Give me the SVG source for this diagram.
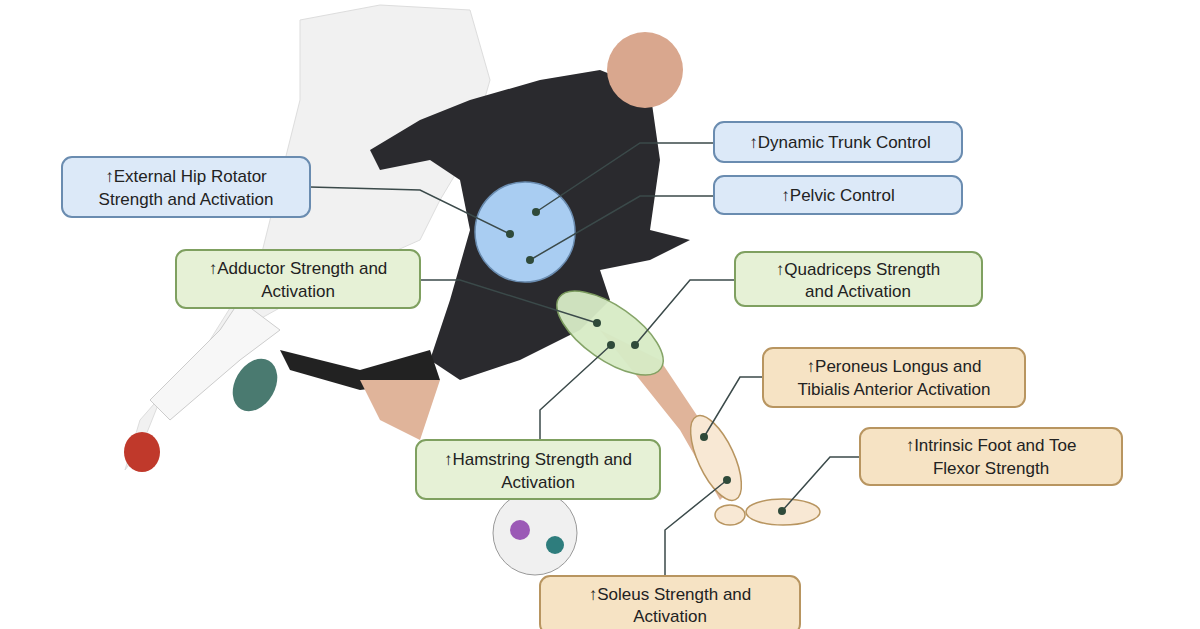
<svg xmlns="http://www.w3.org/2000/svg" width="1200" height="629" viewBox="0 0 1200 629">
<style>
.lb{font-family:"Liberation Sans",Arial,sans-serif;font-size:17px;fill:#222;text-anchor:middle}
.bb{fill:#dce9f8;stroke:#6a8cb0;stroke-width:2}
.gb{fill:#e6f1d6;stroke:#7fa060;stroke-width:2}
.tb{fill:#f6e3c4;stroke:#b89560;stroke-width:2}
.cn{fill:none;stroke:#3b4a4a;stroke-width:1.5}
.dot{fill:#2f4a3a}
</style>
<rect width="1200" height="629" fill="#fff"/>
<g id="scene">
<path d="M300 20 L380 5 L470 10 L490 80 L470 150 L440 200 L420 240 L330 280 L240 330 L160 400 L140 450 L125 470 L140 420 L210 340 L260 260 L280 180 L300 100Z" fill="#f1f1f1" stroke="#ddd"/>
<path d="M220 330 L240 300 L280 330 L240 360 L170 420 L150 400Z" fill="#f7f7f7" stroke="#ccc"/>
<ellipse cx="142" cy="452" rx="18" ry="20" fill="#c0392b"/>
<ellipse cx="255" cy="385" rx="20" ry="28" fill="#4a7a70" transform="rotate(30 255 385)"/>
<path d="M470 100 L540 80 L600 70 L650 90 L660 160 L650 230 L690 240 L650 260 L600 270 L610 300 L580 330 L520 360 L460 380 L430 360 L450 300 L470 230 L460 180 L430 160 L380 170 L370 150 L420 120Z" fill="#2a2a2e"/>
<circle cx="645" cy="70" r="38" fill="#d9a78e"/>
<path d="M280 350 L360 370 L430 350 L440 380 L360 390 L290 370Z" fill="#222"/>
<path d="M360 380 L440 380 L420 440 L380 420Z" fill="#e0b49a"/>
<path d="M600 330 L660 360 L700 420 L740 480 L720 500 L680 430 L640 380Z" fill="#e0b49a"/>
<circle cx="535" cy="533" r="42" fill="#f0f0f0" stroke="#999"/>
<circle cx="520" cy="530" r="10" fill="#9b59b6"/><circle cx="555" cy="545" r="9" fill="#2e7d7d"/>
</g>
<g id="regions">
<circle cx="525" cy="232" r="50" fill="#a9cdf2" stroke="#6a8cb0" stroke-width="1.5"/>
<ellipse cx="610" cy="333" rx="62" ry="27" transform="rotate(35 610 333)" fill="#d7ebc6" stroke="#7fa060" stroke-width="1.5" opacity="0.95"/>
<ellipse cx="716" cy="458" rx="18" ry="46" transform="rotate(-25 716 458)" fill="#f8e8d4" stroke="#b89560" stroke-width="1.5"/>
<ellipse cx="730" cy="515" rx="15" ry="10" fill="#f8e8d4" stroke="#b89560" stroke-width="1.5"/>
<ellipse cx="783" cy="512" rx="37" ry="13" fill="#f8e8d4" stroke="#b89560" stroke-width="1.5"/>
</g>
<g id="connectors">
<polyline class="cn" points="536,212 640,143 714,143"/>
<polyline class="cn" points="530,260 640,196 714,196"/>
<polyline class="cn" points="510,234 420,190 310,187"/>
<polyline class="cn" points="597,323 460,280 420,280"/>
<polyline class="cn" points="635,345 690,280 735,280"/>
<polyline class="cn" points="611,345 540,410 540,440"/>
<polyline class="cn" points="704,437 740,377 763,377"/>
<polyline class="cn" points="782,511 830,457 860,457"/>
<polyline class="cn" points="727,480 665,530 665,576"/>
<circle class="dot" cx="536" cy="212" r="4"/><circle class="dot" cx="510" cy="234" r="4"/><circle class="dot" cx="530" cy="260" r="4"/>
<circle class="dot" cx="597" cy="323" r="4"/><circle class="dot" cx="611" cy="345" r="4"/><circle class="dot" cx="635" cy="345" r="4"/>
<circle class="dot" cx="704" cy="437" r="4"/><circle class="dot" cx="727" cy="480" r="4"/><circle class="dot" cx="782" cy="511" r="4"/>
</g>
<g id="hip"><rect class="bb" x="62" y="157" width="248" height="60" rx="10"/><text class="lb" x="186" y="182">↑External Hip Rotator</text><text class="lb" x="186" y="205">Strength and Activation</text></g>
<g id="trunk"><rect class="bb" x="714" y="122" width="248" height="40" rx="10"/><text class="lb" x="840" y="148">↑Dynamic Trunk Control</text></g>
<g id="pelvic"><rect class="bb" x="714" y="176" width="248" height="38" rx="10"/><text class="lb" x="838" y="201">↑Pelvic Control</text></g>
<g id="adductor"><rect class="gb" x="176" y="250" width="244" height="58" rx="10"/><text class="lb" x="298" y="274">↑Adductor Strength and</text><text class="lb" x="298" y="297">Activation</text></g>
<g id="quad"><rect class="gb" x="735" y="252" width="247" height="54" rx="10"/><text class="lb" x="858" y="275">↑Quadriceps Strength</text><text class="lb" x="858" y="297">and Activation</text></g>
<g id="peroneus"><rect class="tb" x="763" y="348" width="262" height="59" rx="10"/><text class="lb" x="894" y="372">↑Peroneus Longus and</text><text class="lb" x="894" y="395">Tibialis Anterior Activation</text></g>
<g id="foot"><rect class="tb" x="860" y="428" width="262" height="57" rx="10"/><text class="lb" x="991" y="451">↑Intrinsic Foot and Toe</text><text class="lb" x="991" y="474">Flexor Strength</text></g>
<g id="hamstring"><rect class="gb" x="416" y="440" width="244" height="59" rx="10"/><text class="lb" x="538" y="465">↑Hamstring Strength and</text><text class="lb" x="538" y="488">Activation</text></g>
<g id="soleus"><rect class="tb" x="540" y="576" width="260" height="58" rx="10"/><text class="lb" x="670" y="600">↑Soleus Strength and</text><text class="lb" x="670" y="622">Activation</text></g>
</svg>
